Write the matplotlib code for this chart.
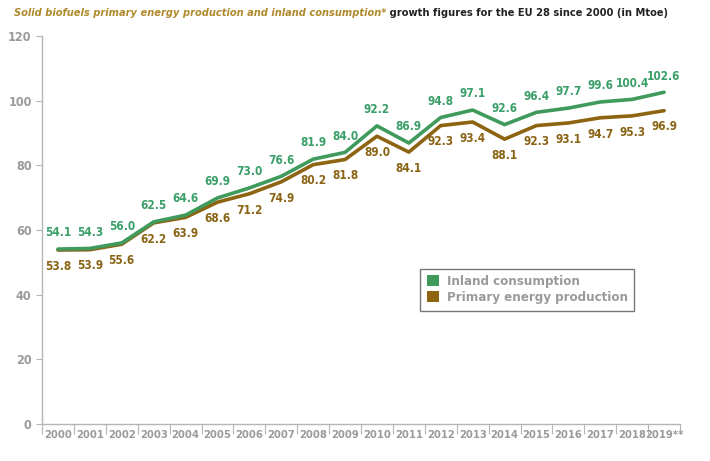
import matplotlib
matplotlib.use("Agg")
import matplotlib.pyplot as plt
from matplotlib.patches import Patch

plt.rcParams["font.family"] = ["DejaVu Sans"]
plt.rcParams["font.stretch"] = "condensed"

YEARS = [str(y) for y in range(2000, 2019)] + ["2019**"]
INLAND = [54.1, 54.3, 56.0, 62.5, 64.6, 69.9, 73.0, 76.6, 81.9, 84.0,
          92.2, 86.9, 94.8, 97.1, 92.6, 96.4, 97.7, 99.6, 100.4, 102.6]
PRODUCTION = [53.8, 53.9, 55.6, 62.2, 63.9, 68.6, 71.2, 74.9, 80.2, 81.8,
              89.0, 84.1, 92.3, 93.4, 88.1, 92.3, 93.1, 94.7, 95.3, 96.9]

GREEN = "#3f9a5c"
GREEN_TXT = "#3a9f68"
BROWN = "#8c6412"
BROWN_TXT = "#8a6414"
GREY = "#9a9a9a"

fig = plt.figure(figsize=(7.1, 4.61), dpi=100)
ax = fig.add_axes([42 / 710, 37 / 461, 638 / 710, 388 / 461])

x = list(range(len(YEARS)))
ax.plot(x, INLAND, color=GREEN, lw=2.6, solid_capstyle="round", zorder=3)
ax.plot(x, PRODUCTION, color=BROWN, lw=2.6, solid_capstyle="round", zorder=2)

for xi, v in zip(x, INLAND):
    ax.annotate(f"{v:.1f}", (xi, v), xytext=(0, 7), textcoords="offset points",
                ha="center", va="bottom", color=GREEN_TXT, fontsize=8.5, fontweight="bold")
for xi, v in zip(x, PRODUCTION):
    ax.annotate(f"{v:.1f}", (xi, v), xytext=(0, -7), textcoords="offset points",
                ha="center", va="top", color=BROWN_TXT, fontsize=8.5, fontweight="bold")

ax.set_xlim(-0.5, len(YEARS) - 0.5)
ax.set_ylim(0, 120)
ax.set_yticks(range(0, 121, 20))
ax.tick_params(axis="y", colors="#b5b5b5", labelcolor=GREY, labelsize=9, length=4, width=0.8)
ax.set_xticks([i - 0.5 for i in x] + [len(YEARS) - 0.5])
ax.set_xticklabels([])
ax.set_xticks(x, minor=True)
ax.set_xticklabels(YEARS, minor=True, fontweight="bold", color=GREY, fontsize=8)
ax.tick_params(axis="x", which="major", direction="out", length=7, color="#b5b5b5", width=0.8)
ax.tick_params(axis="x", which="minor", length=0, pad=4)
for s in ("top", "right"):
    ax.spines[s].set_visible(False)
for s in ("left", "bottom"):
    ax.spines[s].set_color("#b5b5b5")
    ax.spines[s].set_linewidth(1.0)
for lbl in ax.get_yticklabels():
    lbl.set_fontweight("bold")

handles = [Patch(facecolor=GREEN, edgecolor="none", label="Inland consumption"),
           Patch(facecolor=BROWN, edgecolor="none", label="Primary energy production")]
leg = ax.legend(handles=handles, loc="upper left", bbox_to_anchor=(0.593, 0.40),
                frameon=True, fancybox=False, fontsize=9.5, handlelength=0.9,
                handleheight=0.9, handletextpad=0.6, borderpad=0.5, labelspacing=0.2,
                borderaxespad=0)
leg.get_frame().set_edgecolor("#555555")
leg.get_frame().set_linewidth(1.0)
for t in leg.get_texts():
    t.set_color(GREY)
    t.set_fontweight("bold")

t1 = fig.text(14 / 710, 1 - 13 / 461,
              "Solid biofuels primary energy production and inland consumption*",
              color="#b08a2a", fontsize=7.9, fontweight="bold", style="italic",
              ha="left", va="center")
ax.annotate(" growth figures for the EU 28 since 2000 (in Mtoe)", xy=(1, 0),
            xycoords=t1, va="bottom", ha="left", color="#222222", fontsize=7.9,
            fontweight="bold", annotation_clip=False)

fig.savefig("out.png", dpi=100, facecolor="white")
